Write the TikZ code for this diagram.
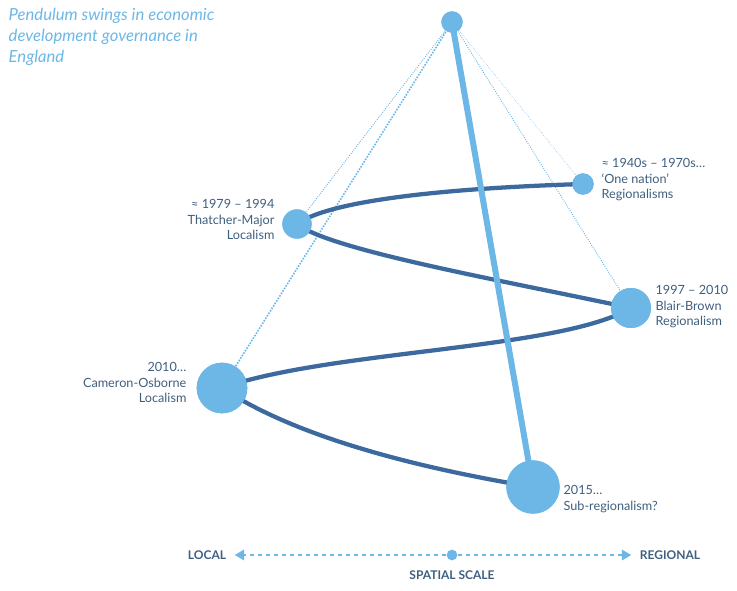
\documentclass[tikz,border=0pt]{standalone}
\usepackage{fontspec}
\setmainfont{Lato}
\usetikzlibrary{arrows.meta}
\definecolor{darkblue}{HTML}{3D6A9E}
\definecolor{lightblue}{HTML}{6CB7E6}
\definecolor{textblue}{HTML}{3F5F80}
\begin{document}
\begin{tikzpicture}[x=0.75pt,y=-0.75pt,
    dot/.style={circle, fill=lightblue, inner sep=0pt},
    swing/.style={darkblue, line width=3.2pt, line cap=round},
    guide/.style={lightblue, densely dotted, line width=0.7pt},
    lbl/.style={text=textblue, font=\fontsize{9.5}{11.5}\selectfont, align=#1, inner sep=1pt},
    lbl/.default=left,
    axis/.style={text=textblue, font=\fontsize{9}{10}\selectfont\bfseries}]
    \useasboundingbox (0,0) rectangle (737,590);

    % title
    \node[anchor=north west, text=lightblue, align=left, font=\fontsize{12.5}{15.5}\selectfont\itshape] (title) at (4,4)
        {Pendulum swings in economic\\development governance in\\England};

    % pivot and stages
    \node[dot, minimum size=16] (top) at (452,22) {};
    \node[dot, minimum size=16] (nation) at (583,184) {};
    \node[dot, minimum size=22] (thatcher) at (297,224) {};
    \node[dot, minimum size=30] (blair) at (631,308) {};
    \node[dot, minimum size=38] (cameron) at (222,388) {};
    \node[dot, minimum size=40] (sub) at (533,487) {};

    % guides
    \draw[guide] (top.center) -- (thatcher.center);
    \draw[guide, line width=0.4pt] (top.center) -- (nation.center);
    \draw[guide] (top.center) -- (blair.center);
    \draw[guide, line width=1.2pt] (top.center) -- (cameron.center);

    % pendulum path
    \draw[swing] (nation.center) .. controls (450,188) and (330,200) .. (thatcher.center);
    \draw[swing] (thatcher.center) .. controls (330,250) and (500,280) .. (blair.center);
    \draw[swing] (blair.center) .. controls (560,350) and (330,350) .. (cameron.center);
    \draw[swing] (cameron.center) .. controls (300,440) and (430,470) .. (sub.center);

    % rod
    \draw[lightblue, line width=4.5pt] (top.center) -- (sub.center);
    \node[dot, minimum size=16] at (top) {};
    \node[dot, minimum size=16] at (nation) {};
    \node[dot, minimum size=22] at (thatcher) {};
    \node[dot, minimum size=30] at (blair) {};
    \node[dot, minimum size=38] at (cameron) {};
    \node[dot, minimum size=40] at (sub) {};

    % labels
    \node[lbl, anchor=north west] (tnation) at (600,157) {≈ 1940s – 1970s…\\‘One nation’\\Regionalisms};
    \node[lbl=right, anchor=north east] (tthatcher) at (276,198) {≈ 1979 – 1994\\Thatcher-Major\\Localism};
    \node[lbl, anchor=north west] (tblair) at (654,284) {1997 – 2010\\Blair-Brown\\Regionalism};
    \node[lbl=right, anchor=north east] (tcameron) at (188,361) {2010…\\Cameron-Osborne\\Localism};
    \node[lbl, anchor=north west] (tsub) at (562,484) {2015…\\Sub-regionalism?};

    % spatial scale axis
    \node[axis] (local) at (207,555) {LOCAL};
    \node[axis] (regional) at (670,555) {REGIONAL};
    \node[axis] (scale) at (452,575) {SPATIAL SCALE};
    \node[dot, minimum size=8] (mid) at (452,555) {};
    \draw[lightblue, dashed, line width=0.8pt, -{Triangle[length=7pt,width=8pt]}] (mid) -- ([xshift=3pt]local.east);
    \draw[lightblue, dashed, line width=0.8pt, -{Triangle[length=7pt,width=8pt]}] (mid) -- ([xshift=-3pt]regional.west);
\end{tikzpicture}
\end{document}
